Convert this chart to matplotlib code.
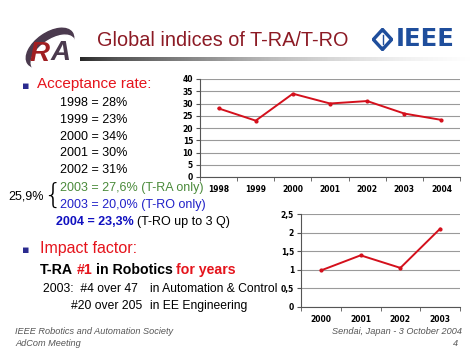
import matplotlib
matplotlib.use("Agg")
import matplotlib.pyplot as plt
import numpy as np
from matplotlib.patches import Polygon, Ellipse

# data
acc_years = ["1998", "1999", "2000", "2001", "2002", "2003", "2004"]
acc_rate = [28, 23, 34, 30, 31, 25.9, 23.3]
acc_ticks = [0, 5, 10, 15, 20, 25, 30, 35, 40]

if_years = ["2000", "2001", "2002", "2003"]
if_values = [0.98, 1.39, 1.05, 2.11]
if_ticks = [0, 0.5, 1, 1.5, 2, 2.5]

W, H = 474, 355
RED = "#e5141c"
LINE = "#d4101c"
DARKRED = "#8c1a24"
SANS = "Liberation Sans"

fig = plt.figure(figsize=(W / 100, H / 100), dpi=100)
fig.patch.set_facecolor("white")
rend = fig.canvas.get_renderer()


def box(x0, y0, x1, y1):
    # pixel box -> figure fraction [l, b, w, h]
    return [x0 / W, 1 - y1 / H, (x1 - x0) / W, (y1 - y0) / H]


def txt(x, y, s, **kw):
    kw.setdefault("va", "center")
    kw.setdefault("ha", "left")
    kw.setdefault("family", SANS)
    return fig.text(x / W, 1 - y / H, s, **kw)


def seq(x, y, parts, gap=4, **common):
    # pieces of one line in different colours, placed one after another
    for s, kw in parts:
        t = txt(x, y, s, **common, **kw)
        x += t.get_window_extent(rend).width + gap


def small_chart(rect, cats, vals, ticks, labels):
    ax = fig.add_axes(rect)
    x = np.arange(len(cats))
    ax.plot(x, vals, color=LINE, lw=1.4, marker="o", ms=2)
    ax.set_xlim(-0.5, len(cats) - 0.5)
    ax.set_ylim(ticks[0], ticks[-1])
    ax.set_yticks(ticks)
    ax.set_yticklabels(labels, fontsize=5.5, fontweight="bold")
    ax.set_xticks(x)
    ax.set_xticklabels(cats, fontsize=5.5, fontweight="bold")
    ax.set_xticks(np.arange(len(cats) + 1) - 0.5, minor=True)
    ax.tick_params(axis="x", which="major", length=0, pad=6)
    ax.tick_params(axis="x", which="minor", length=3, color="#555555")
    ax.tick_params(axis="y", length=3, color="#555555", pad=2)
    ax.yaxis.grid(True, color="#9a9a9a", lw=0.8)
    ax.set_axisbelow(True)
    for s in ["top", "right"]:
        ax.spines[s].set_visible(False)
    for s in ["left", "bottom"]:
        ax.spines[s].set_color("#555555")
        ax.spines[s].set_linewidth(0.8)
    return ax


small_chart(box(200, 79, 460, 177), acc_years, acc_rate, acc_ticks,
            [str(t) for t in acc_ticks])
small_chart(box(301, 214.3, 460, 306.7), if_years, if_values, if_ticks,
            [("%g" % t).replace(".", ",") for t in if_ticks])

# header
txt(97, 41, "Global indices of T-RA/T-RO", fontsize=14.3, color=DARKRED)
ln = fig.add_axes(box(80, 57, 472, 61))
ln.axis("off")
grad = np.linspace(0, 1, 256) ** 0.8
ln.imshow(grad[None, :], aspect="auto", cmap="Greys_r", extent=[0, 1, 0, 1],
          vmin=-0.15, vmax=1.0)
ln.set_xlim(0, 1)
ln.set_ylim(0, 1)

# left logo (rough crescent + R A)
lo = fig.add_axes(box(18, 22, 82, 76))
lo.axis("off")
lo.set_xlim(18, 82)
lo.set_ylim(76, 22)
lo.add_patch(Ellipse((50, 48), 54, 30, angle=-35, color="#4b3a4e"))
lo.add_patch(Ellipse((53, 53), 50, 26, angle=-35, color="white"))
lo.text(30, 54, "R", fontsize=20, color="#a01e22", fontweight="bold",
        style="italic", va="center", family=SANS)
lo.text(51, 53, "A", fontsize=20, color="#4b3a4e", fontweight="bold",
        style="italic", va="center", family=SANS)

# IEEE logo
lg = fig.add_axes(box(372, 28, 393, 51))
lg.axis("off")
lg.set_xlim(0, 1)
lg.set_ylim(0, 1)
lg.add_patch(Polygon([[0.5, 1], [1, 0.5], [0.5, 0], [0, 0.5]], color="#1f4e9c"))
lg.add_patch(Polygon([[0.5, 0.78], [0.78, 0.5], [0.5, 0.22], [0.22, 0.5]],
                     color="white"))
lg.plot([0.5, 0.5], [0.3, 0.7], color="#1f4e9c", lw=1)
txt(396, 39, "IEEE", fontsize=17.5, color="#1f4e9c", fontweight="bold",
    family="DejaVu Sans")

# acceptance rate block
txt(22, 86, "\u25aa", fontsize=8, color="#2b2b8f", family="DejaVu Sans")
txt(37, 84, "Acceptance rate:", fontsize=11, color=RED)
rows = ["1998 = 28%", "1999 = 23%", "2000 = 34%", "2001 = 30%", "2002 = 31%"]
for i, r in enumerate(rows):
    txt(60, 103 + i * 16.8, r, fontsize=9)
txt(60, 188, "2003 = 27,6% (T-RA only)", fontsize=9, color="#4a8a3a")
txt(60, 205, "2003 = 20,0% (T-RO only)", fontsize=9, color="#2020c8")
txt(8, 196, "25,9%", fontsize=9)
txt(43, 196, "{", fontsize=21, family="DejaVu Sans", fontweight="light")
seq(56, 222, [("2004 = 23,3%", dict(color="#1010c0", fontweight="bold")),
              ("(T-RO up to 3 Q)", {})], gap=3, fontsize=9)

# impact factor block
txt(22, 250, "\u25aa", fontsize=8, color="#2b2b8f", family="DejaVu Sans")
txt(40, 248, "Impact factor:", fontsize=11.5, color=RED)
seq(40, 270, [("T-RA", {}), ("#1", dict(color=RED)), ("in Robotics", {}),
              ("for years", dict(color=RED))],
    gap=3.5, fontsize=10.2, fontweight="bold")
txt(43, 289, "2003:  #4 over 47", fontsize=8.7)
txt(150, 289, "in Automation & Control", fontsize=8.7)
txt(71, 306, "#20 over 205", fontsize=8.7)
txt(150, 306, "in EE Engineering", fontsize=8.7)

# footer
foot = dict(fontsize=6.6, color="#555555", style="italic")
txt(15, 332, "IEEE Robotics and Automation Society", **foot)
txt(15, 343, "AdCom Meeting", **foot)
txt(462, 332, "Sendai, Japan - 3 October 2004", ha="right", **foot)
txt(458, 343, "4", ha="right", **foot)

fig.savefig("out.png", dpi=100)
